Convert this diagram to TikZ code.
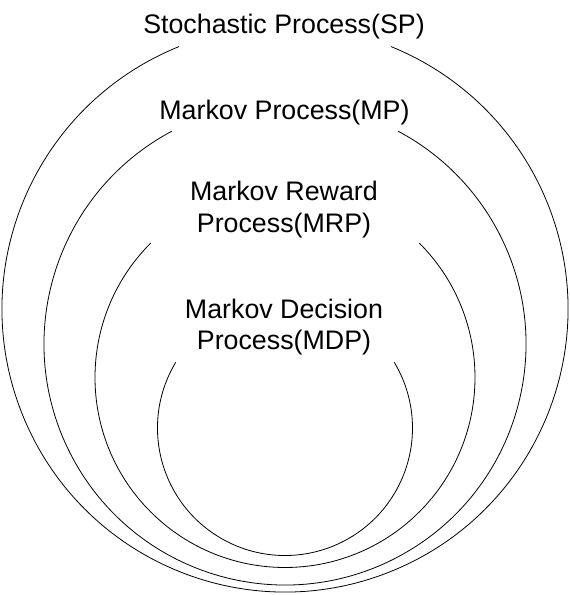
\documentclass[tikz,border=0pt]{standalone}
\usepackage{fontspec}
\setmainfont{Liberation Sans}
\begin{document}
\begin{tikzpicture}[x=1pt,y=1pt,
  ring/.style={draw=black,line width=0.8pt},
  lbl/.style={anchor=base,align=center,inner sep=0pt,font=\fontsize{26.8}{31.6}\selectfont}]
\useasboundingbox (0,0) rectangle (570,595);
\coordinate (cSP) at (285,286);
\coordinate (cMP) at (285,251);
\coordinate (cMRP) at (285,217.5);
\coordinate (cMDP) at (285,167);
\draw[ring] (cSP) ++(112:283pt) arc[start angle=112,end angle=428,radius=283pt];
\draw[ring] (cMP) ++(118:241pt) arc[start angle=118,end angle=422,radius=241pt];
\draw[ring] (cMRP) ++(135:190pt) arc[start angle=135,end angle=405,radius=190pt];
\draw[ring] (cMDP) ++(149:127.5pt) arc[start angle=149,end angle=391,radius=127.5pt];
\node[lbl] (sp) at (284,561.7) {Stochastic Process(SP)};
\node[lbl] (mp) at (284.5,475) {Markov Process(MP)};
\node[lbl] (mrp) at (284,362.7) {Markov Reward\\Process(MRP)};
\node[lbl] (mdp) at (284,245) {Markov Decision\\Process(MDP)};
\end{tikzpicture}
\end{document}
